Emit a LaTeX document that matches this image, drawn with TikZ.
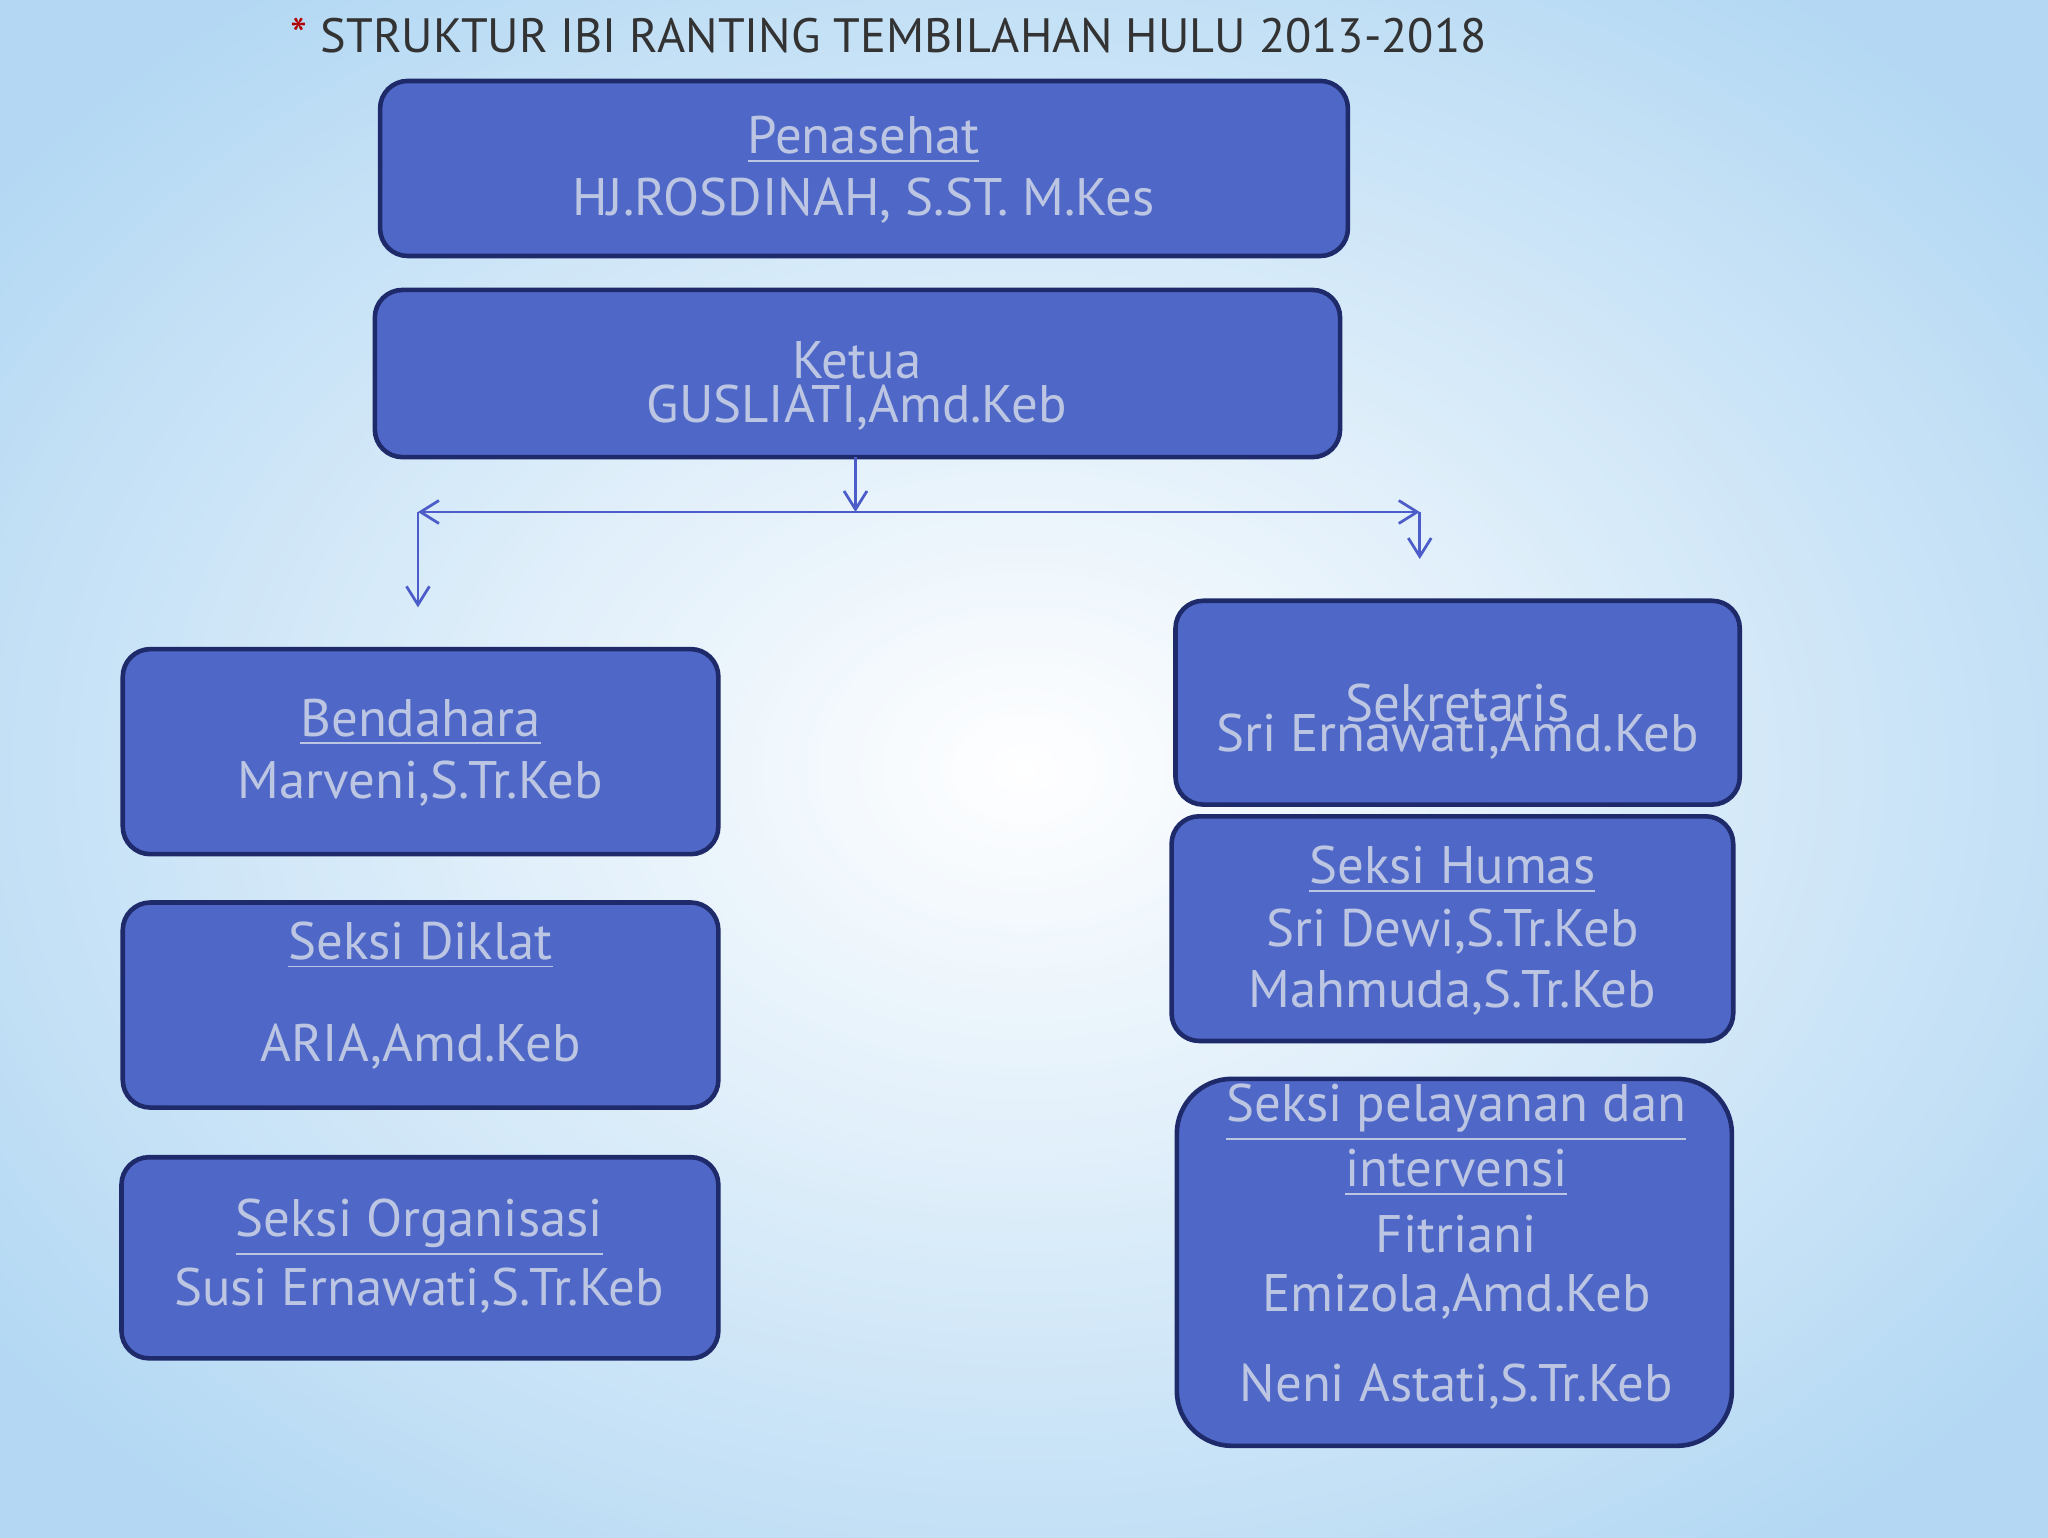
\documentclass[tikz,border=0pt]{standalone}
\usepackage{fontspec}
\setmainfont{PT Sans}
\usetikzlibrary{arrows.meta}
\definecolor{boxfill}{HTML}{4F68C8}
\definecolor{boxline}{HTML}{1E2A6A}
\definecolor{txt}{HTML}{BCC6E2}
\definecolor{conn}{HTML}{4C5CC8}
\definecolor{bgout}{HTML}{8CC4EE}
\begin{document}
\begin{tikzpicture}[x=0.01cm,y=-0.01cm,
 orgbox/.style={draw=boxline,line width=1pt,fill=boxfill,rounded corners=6pt},
 lbl/.style={text=txt,font=\fontsize{11.5}{13}\selectfont,inner sep=0pt},
 conline/.style={draw=conn,line width=0.6pt},
 arr/.style={conline,-{Straight Barb[length=4pt,width=5pt]}}]
\useasboundingbox (0,0) rectangle (1568,1177);
\shade[inner color=white,outer color=bgout] (-200,-150) rectangle (1768,1327);
\shade[top color=white,bottom color=white,middle color=white,opacity=0.35] (0,0) rectangle (1568,1177);
\node[anchor=west,inner sep=0pt,font=\fontsize{10.5}{12}\selectfont,text=black!80] (title) at (222,27) {\textcolor{red!70!black}{*}\ STRUKTUR IBI RANTING TEMBILAHAN HULU 2013-2018};
% boxes
\draw[orgbox] (291,62) rectangle (1032,196);
\node[lbl] (pen1) at (661,107) {\underline{Penasehat}};
\node[lbl] (pen2) at (661,154) {HJ.ROSDINAH, S.ST. M.Kes};
\draw[orgbox] (287,222) rectangle (1026,350);
\node[lbl] (ket1) at (656,276) {Ketua};
\node[lbl] (ket2) at (656,312) {GUSLIATI,Amd.Keb};
\draw[orgbox] (94,497) rectangle (550,654);
\node[lbl] (ben1) at (322,553) {\underline{Bendahara}};
\node[lbl] (ben2) at (322,600) {Marveni,S.Tr.Keb};
\draw[orgbox] (94,691) rectangle (550,848);
\node[lbl] (dik1) at (322,724) {\underline{Seksi Diklat}};
\node[lbl] (dik2) at (322,801) {ARIA,Amd.Keb};
\draw[orgbox] (93,886) rectangle (550,1040);
\node[lbl] (org1) at (321,940) {\underline{Seksi Organisasi}};
\node[lbl] (org2) at (321,988) {Susi Ernawati,S.Tr.Keb};
\draw[orgbox] (900,460) rectangle (1332,616);
\node[lbl] (sek1) at (1116,538) {Sekretaris};
\node[lbl] (sek2) at (1116,564) {Sri Ernawati,Amd.Keb};
\draw[orgbox] (897,625) rectangle (1327,797);
\node[lbl] (hum1) at (1112,666) {\underline{Seksi Humas}};
\node[lbl] (hum2) at (1112,713) {Sri Dewi,S.Tr.Keb};
\node[lbl] (hum3) at (1112,760) {Mahmuda,S.Tr.Keb};
\draw[orgbox,rounded corners=12pt] (901,826) rectangle (1326,1107);
\node[lbl] (pel1) at (1115,852) {\underline{Seksi pelayanan dan}};
\node[lbl] (pel2) at (1115,898) {\underline{intervensi}};
\node[lbl] (pel3) at (1115,945) {Fitriani};
\node[lbl] (pel4) at (1115,993) {Emizola,Amd.Keb};
\node[lbl] (pel5) at (1115,1062) {Neni Astati,S.Tr.Keb};
% connectors
\coordinate (kb) at (655,350);
\coordinate (jn) at (655,392);
\coordinate (lj) at (320,392);
\coordinate (rj) at (1087,392);
\coordinate (la) at (320,465);
\coordinate (ra) at (1087,428);
\draw[arr] (kb) -- (jn);
\draw[arr] (jn) -- (lj);
\draw[arr] (jn) -- (rj);
\draw[arr] (lj) -- (la);
\draw[arr] (rj) -- (ra);
\end{tikzpicture}
\end{document}
